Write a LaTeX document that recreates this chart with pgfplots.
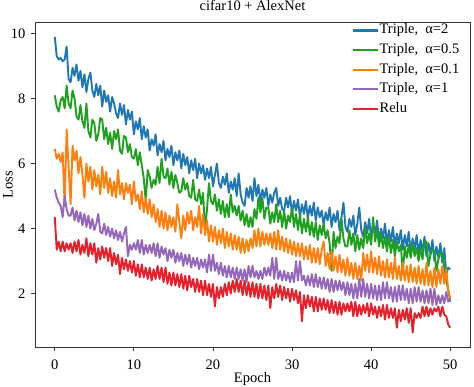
\documentclass[border=0pt]{standalone}
\usepackage{fontspec}
\setmainfont{Liberation Serif}
\usepackage{pgfplots}
\usepackage{pgfplotstable}
\pgfplotsset{compat=1.18}
\definecolor{cb}{HTML}{1F77B4}
\definecolor{cg}{HTML}{1FA01F}
\definecolor{co}{HTML}{FF7F0E}
\definecolor{cp}{HTML}{9467BD}
\definecolor{cr}{HTML}{E6212B}
\pgfplotstableread{
x b g o p r
0 9.90 8.10 6.45 5.20 4.35
0.25 9.30 7.75 6.15 4.95 3.35
0.5 9.20 7.60 6.30 4.80 3.60
0.75 9.25 7.95 6.05 4.70 3.30
1 9.15 8.05 6.35 4.35 3.60
1.25 9.20 7.70 4.70 5.00 3.30
1.5 9.60 8.40 7.05 4.60 3.55
1.75 8.60 7.85 5.90 4.40 3.35
2 8.50 7.70 4.75 4.40 3.55
2.25 8.95 8.25 6.55 4.65 3.25
2.5 8.70 8.00 6.10 4.25 3.60
2.75 9.05 7.45 6.40 4.55 3.30
3 8.55 7.35 5.70 4.20 3.65
3.25 8.85 7.80 6.20 4.50 3.20
3.5 8.35 7.30 5.65 4.10 3.50
3.75 8.75 7.10 4.95 4.45 3.25
4 8.20 7.85 6.00 4.05 3.70
4.25 8.60 7.00 5.45 4.40 3.15
4.5 8.80 6.80 5.90 4.00 3.55
4.75 8.25 7.35 5.20 4.30 3.20
5 8.05 7.25 5.80 3.95 3.55
5.25 8.45 6.70 5.30 4.15 2.95
5.5 8.10 6.90 5.65 4.45 3.40
5.75 8.40 7.40 5.05 3.90 3.05
6 7.75 7.35 5.90 3.85 3.45
6.25 8.25 6.75 5.25 4.15 3.10
6.5 7.90 7.10 5.75 3.80 3.40
6.75 8.10 6.60 5.10 4.05 3.00
7 7.60 6.95 5.55 3.75 3.40
7.25 8.05 6.45 5.00 4.00 2.85
7.5 7.85 7.00 5.45 3.70 3.25
7.75 7.55 6.75 4.95 3.95 2.90
8 7.40 7.05 5.80 3.65 3.20
8.25 7.85 6.40 5.05 3.90 2.60
8.5 7.50 6.30 5.40 3.60 3.10
8.75 7.80 6.85 4.90 3.85 2.75
9 7.20 6.80 5.40 4.05 3.05
9.25 7.65 6.35 5.10 3.15 2.70
9.5 7.35 6.60 5.35 3.50 3.00
9.75 7.60 6.20 4.75 3.35 2.65
10 6.90 6.15 5.45 3.55 3.00
10.25 7.30 6.45 4.85 3.35 2.55
10.5 7.05 5.95 5.05 3.65 2.90
10.75 7.40 6.35 4.60 3.25 2.50
11 6.75 5.95 5.15 3.65 2.90
11.25 7.15 5.55 4.50 3.20 2.50
11.5 6.80 4.85 4.95 3.50 2.80
11.75 7.05 5.80 4.45 3.25 2.45
12 6.40 5.60 4.90 3.50 2.80
12.25 6.75 5.25 4.35 3.25 2.40
12.5 6.55 5.50 4.75 3.55 2.75
12.75 6.90 5.35 4.20 3.15 2.45
13 6.25 5.90 4.60 3.55 2.85
13.25 6.60 5.40 4.05 3.10 2.45
13.5 6.35 6.15 4.55 3.45 2.80
13.75 6.70 5.60 4.00 3.20 2.35
14 6.10 5.55 4.50 3.40 2.80
14.25 6.45 5.85 3.95 3.00 2.30
14.5 6.20 5.35 4.40 3.35 2.65
14.75 6.55 5.75 4.05 3.10 2.25
15 5.95 5.25 4.35 3.35 2.65
15.25 6.35 5.65 3.90 2.95 2.25
15.5 6.10 5.40 4.75 3.25 2.60
15.75 6.40 5.10 4.20 3.00 2.20
16 5.85 5.15 3.70 3.25 2.60
16.25 6.30 5.55 4.40 2.85 2.15
16.5 5.95 5.20 3.95 3.20 2.55
16.75 6.20 5.40 4.50 2.90 2.10
17 5.70 5.00 4.15 3.20 2.55
17.25 6.10 4.95 4.55 2.80 2.20
17.5 5.80 5.50 3.95 3.10 2.45
17.75 6.15 4.90 4.35 2.85 2.05
18 5.55 4.85 4.05 3.10 2.45
18.25 6.00 5.20 4.70 2.75 2.05
18.5 5.70 4.75 3.85 3.05 2.40
18.75 5.95 5.10 4.45 2.80 1.95
19 5.50 3.95 3.80 3.05 2.40
19.25 5.85 4.60 4.25 2.65 1.95
19.5 5.55 5.40 3.60 3.20 2.30
19.75 5.90 4.85 4.10 2.70 1.90
20 5.30 4.75 3.60 3.20 2.30
20.25 5.65 5.05 4.05 2.70 1.60
20.5 6.00 4.55 3.50 2.95 2.20
20.75 5.40 4.90 3.95 2.60 1.85
21 5.25 4.45 3.55 2.95 2.20
21.25 5.60 4.85 4.00 2.55 1.90
21.5 5.35 4.35 3.40 2.85 2.30
21.75 5.70 4.75 3.90 2.50 1.95
22 5.10 4.35 3.45 2.85 2.35
22.25 5.45 5.05 3.85 2.50 2.00
22.5 5.20 4.50 3.35 2.80 2.40
22.75 5.55 4.70 3.80 2.45 2.05
23 5.00 4.40 3.35 2.80 2.45
23.25 5.70 4.70 3.75 2.45 2.05
23.5 5.05 4.25 3.25 2.75 2.40
23.75 4.80 4.55 3.70 2.40 1.95
24 4.70 4.10 3.25 2.75 2.40
24.25 5.25 4.45 3.65 2.35 1.95
24.5 4.95 4.05 3.30 2.85 2.35
24.75 5.30 4.35 3.70 2.50 1.90
25 4.85 4.05 3.40 2.85 2.35
25.25 5.55 4.60 3.95 2.50 1.90
25.5 5.00 4.30 3.45 2.70 2.30
25.75 5.35 4.95 4.00 2.45 1.85
26 4.80 4.50 3.45 2.70 2.30
26.25 5.20 4.95 3.90 2.45 1.85
26.5 4.95 4.30 3.50 2.80 2.25
26.75 5.25 4.65 3.85 2.55 1.80
27 4.70 4.65 3.50 2.80 2.25
27.25 5.05 4.15 3.85 2.55 1.55
27.5 4.80 4.50 3.40 3.10 2.20
27.75 5.10 4.20 3.90 2.45 1.85
28 5.25 4.75 3.35 3.10 2.30
28.25 4.70 4.20 3.95 2.45 1.90
28.5 4.95 4.55 3.35 2.70 2.25
28.75 4.60 4.05 3.75 2.40 1.80
29 4.55 4.55 3.30 2.70 2.20
29.25 4.95 4.00 3.70 2.40 1.85
29.5 4.65 4.40 3.25 2.65 2.15
29.75 5.00 4.20 3.65 2.35 1.75
30 4.45 4.65 3.20 2.65 2.15
30.25 4.85 4.05 3.60 2.35 1.80
30.5 4.55 4.45 3.15 3.00 2.10
30.75 4.90 3.95 3.55 2.40 1.70
31 4.35 4.45 3.15 3.00 2.05
31.25 4.75 3.85 3.55 2.40 1.15
31.5 4.45 4.30 3.05 2.55 1.95
31.75 4.85 3.90 3.45 2.25 1.55
32 4.30 4.35 3.05 2.55 1.95
32.25 4.70 3.80 3.50 2.25 1.60
32.5 4.40 4.20 2.95 2.60 1.90
32.75 4.80 3.75 3.40 2.20 1.45
33 4.25 4.20 2.95 2.60 1.90
33.25 4.65 3.65 3.40 2.20 1.45
33.5 4.35 4.10 2.90 2.50 1.85
33.75 4.55 3.80 3.35 2.15 1.50
34 4.10 4.15 3.60 2.50 1.85
34.25 4.50 3.70 2.85 2.15 1.50
34.5 4.25 3.95 3.25 2.45 1.80
34.75 4.65 3.55 2.75 2.05 1.40
35 4.05 2.70 3.30 2.45 1.80
35.25 4.45 3.90 2.70 2.05 1.40
35.5 4.20 3.40 3.15 2.40 1.75
35.75 4.55 3.75 2.65 2.10 1.35
36 3.95 3.55 3.20 2.40 1.75
36.25 4.35 4.30 2.65 2.10 1.35
36.5 4.80 3.70 3.05 2.35 1.70
36.75 4.05 3.45 2.55 1.95 1.45
37 3.90 3.45 3.10 2.35 1.70
37.25 4.30 3.95 2.55 1.95 1.45
37.5 4.05 3.50 2.95 2.30 1.75
37.75 4.40 3.85 2.45 1.85 1.30
38 3.80 3.30 2.95 2.30 1.75
38.25 4.15 3.80 2.45 1.85 1.30
38.5 4.65 3.35 2.85 2.45 1.65
38.75 3.95 3.70 2.40 1.90 1.35
39 3.75 3.40 3.25 2.45 1.65
39.25 4.20 4.05 2.70 1.90 1.40
39.5 3.85 3.55 3.20 2.30 1.70
39.75 4.30 3.85 2.65 1.85 1.30
40 3.70 3.50 3.30 2.30 1.70
40.25 4.10 4.35 2.65 1.85 1.35
40.5 3.80 3.60 3.10 2.25 1.60
40.75 4.25 3.95 2.60 1.80 1.25
41 3.60 3.45 3.15 2.25 1.60
41.25 4.00 3.85 2.55 1.80 1.30
41.5 3.70 3.40 3.00 2.35 1.65
41.75 4.15 3.75 2.50 1.85 1.20
42 3.55 3.30 3.05 2.35 1.65
42.25 3.95 3.75 2.50 1.85 1.25
42.5 3.60 3.25 2.95 2.20 1.55
42.75 4.05 3.65 2.45 1.75 1.25
43 3.45 3.15 3.10 2.20 1.55
43.25 3.85 3.60 2.45 1.75 0.95
43.5 3.55 3.30 2.85 2.25 1.50
43.75 3.95 3.50 2.40 1.80 1.15
44 3.35 2.60 2.95 2.25 1.50
44.25 3.80 3.45 2.40 1.80 1.20
44.5 3.45 3.10 2.85 2.15 1.55
44.75 3.90 3.50 2.35 1.70 1.10
45 3.30 3.10 2.90 2.15 1.55
45.25 3.70 3.55 2.35 1.70 0.80
45.5 3.35 3.15 2.80 2.20 1.40
45.75 3.80 3.40 2.30 1.75 1.25
46 3.20 3.00 2.85 2.20 1.40
46.25 3.65 3.40 2.30 1.75 1.25
46.5 3.30 3.05 2.75 2.10 1.60
46.75 3.75 3.60 2.25 1.70 1.30
47 3.15 3.60 2.95 2.10 1.60
47.25 3.55 2.85 2.25 1.70 1.30
47.5 3.20 3.20 2.70 2.15 1.55
47.75 3.65 3.35 2.20 1.65 1.35
48 3.00 3.30 2.80 2.15 1.55
48.25 3.45 2.70 2.20 1.65 1.45
48.5 3.10 3.05 2.75 1.95 1.60
48.75 3.55 3.25 2.30 1.70 1.30
49 2.95 3.25 2.85 1.95 1.60
49.25 3.40 2.80 2.30 1.70 1.35
49.5 2.60 2.40 2.75 2.05 1.30
49.75 2.80 2.10 2.10 1.75 1.05
50 2.75 1.75 1.85 1.85 0.95
}\data
\newcommand{\fs}{\fontsize{14.5}{17}\selectfont}
\begin{document}
\begin{tikzpicture}
\begin{axis}[
  name=ax,
  scale only axis,
  width=435pt, height=325pt,
  xmin=-2.5, xmax=52.5, ymin=0.35, ymax=10.35,
  xtick={0,10,20,30,40,50},
  ytick={2,4,6,8,10},
  tick align=outside,
  major tick length=3.5pt,
  xtick pos=bottom, ytick pos=left,
  tick style={black!80, line width=0.8pt},
  axis line style={black!80, line width=0.8pt},
  /pgf/number format/assume math mode=true,
  ticklabel style={font=\fs},
  xticklabel style={anchor=north, inner sep=0pt, yshift=-9pt},
  yticklabel style={anchor=east, inner sep=0pt, xshift=-6pt},
  title={cifar10 + AlexNet},
  title style={font=\fs, inner sep=0pt, anchor=base, at={(axis description cs:0.5,1)}, yshift=6pt},
  xlabel={Epoch},
  xlabel style={font=\fs, inner sep=0pt, anchor=base, at={(axis description cs:0.5,0)}, yshift=-35pt},
  ylabel={Loss},
  ylabel style={font=\fs, inner sep=0pt, anchor=south, at={(axis description cs:0,0.5)}, yshift=22pt},
  legend style={draw=none, fill=none, font=\fs, anchor=north east, at={(axis description cs:1,1)}, xshift=-9pt, yshift=0pt, inner sep=0pt, row sep=3.6pt, nodes={inner sep=1.5pt, text height=10pt, text depth=3pt}},
  legend cell align=left,
  legend image code/.code={\fill[#1, draw=none] (0pt,-1.1pt) rectangle (25pt,1.1pt);},
  every axis plot/.append style={line width=1.9pt, line join=round},
]
\addplot[cb] table[x=x, y=b] {\data};
\addlegendentry{Triple,\ \ α=2}
\addplot[cg] table[x=x, y=g] {\data};
\addlegendentry{Triple,\ \ α=0.5}
\addplot[co] table[x=x, y=o] {\data};
\addlegendentry{Triple,\ \ α=0.1}
\addplot[cp] table[x=x, y=p] {\data};
\addlegendentry{Triple,\ \ α=1}
\addplot[cr] table[x=x, y=r] {\data};
\addlegendentry{Relu}
\end{axis}
\path ([shift={(-35pt,-39pt)}]ax.south west) rectangle ([shift={(4pt,17pt)}]ax.north east);
\end{tikzpicture}
\end{document}
